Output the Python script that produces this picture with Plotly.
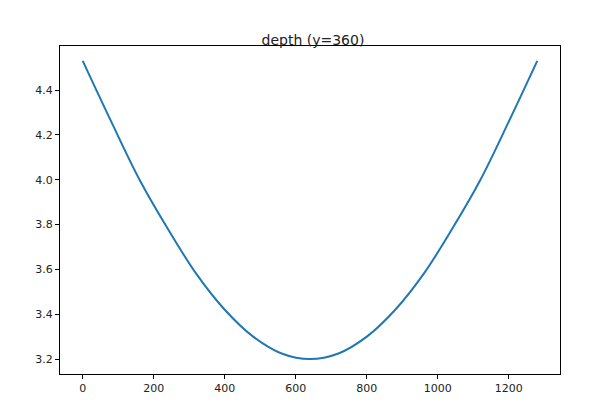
import plotly.graph_objects as go

# values
xs = [0, 80, 160, 240, 320, 400, 480, 560, 640, 720, 800, 880, 960, 1040, 1120, 1200, 1280]
depth = [4.53, 4.26, 4.00, 3.78, 3.58, 3.42, 3.30, 3.225, 3.20, 3.225, 3.30, 3.42, 3.58, 3.78, 4.00, 4.26, 4.53]
x_ticks = [0, 200, 400, 600, 800, 1000, 1200]
y_ticks = [3.2, 3.4, 3.6, 3.8, 4.0, 4.2, 4.4]

fig = go.Figure()
fig.add_trace(go.Scatter(x=xs, y=depth, mode='lines', line=dict(color='#1f77b4', width=2, shape='spline')))

axis_style = dict(showline=True, linecolor='black', linewidth=1, mirror=True, showgrid=False, zeroline=False,
                  ticks='outside', ticklen=4, tickcolor='black', tickfont=dict(size=11, color='#222'))
fig.update_xaxes(range=[-64, 1344], tickvals=x_ticks, **axis_style)
fig.update_yaxes(range=[3.1335, 4.5965], tickvals=y_ticks, tickformat='.1f', **axis_style)
fig.update_layout(
    width=598, height=412, template='none', showlegend=False,
    paper_bgcolor='white', plot_bgcolor='white',
    font=dict(family='DejaVu Sans', color='#222'),
    title=dict(text='depth (y=360)', x=0.51, xanchor='center', y=0.935, font=dict(size=14)),
    margin=dict(l=52, r=46, t=38, b=46),
)
fig.write_html("out.html")
